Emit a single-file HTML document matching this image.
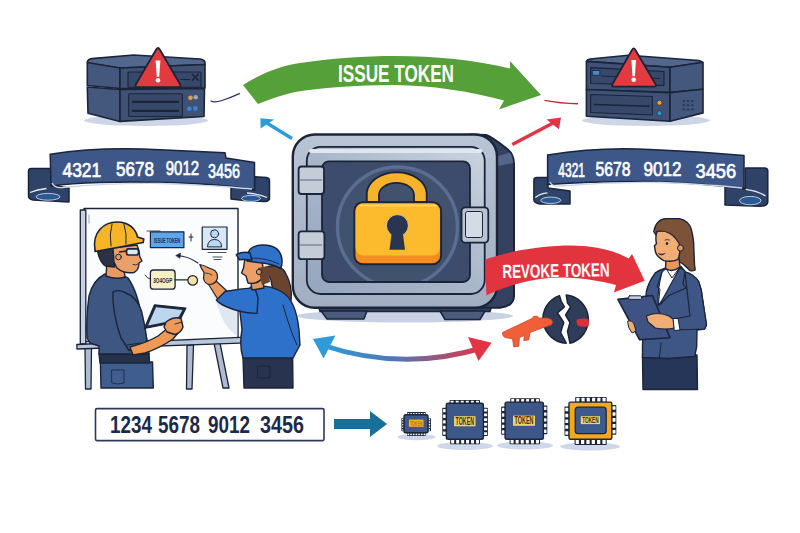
<!DOCTYPE html>
<html><head><meta charset="utf-8"><title>Tokenization</title>
<style>
html,body{margin:0;padding:0;background:#fff;width:800px;height:533px;overflow:hidden}
svg{display:block;font-family:"Liberation Sans",sans-serif}
</style></head><body>
<svg width="800" height="533" viewBox="0 0 800 533">
<defs>
<linearGradient id="dbl" x1="0" x2="1" y1="0" y2="0">
<stop offset="0" stop-color="#2f9bd8"/><stop offset="0.45" stop-color="#4f78b8"/><stop offset="1" stop-color="#e23444"/>
</linearGradient>
<linearGradient id="ring" x1="1" y1="0" x2="0" y2="1">
<stop offset="0" stop-color="#cbd4e0"/><stop offset="0.5" stop-color="#a9b7ca"/><stop offset="1" stop-color="#95a5bc"/>
</linearGradient>
<linearGradient id="outer" x1="0" y1="0" x2="0" y2="1">
<stop offset="0" stop-color="#b9c4d4"/><stop offset="1" stop-color="#a1aec2"/>
</linearGradient>
</defs>
<rect width="800" height="533" fill="#fff"/>

<!-- ============ LEFT SERVER ============ -->
<g id="srvL" stroke="#1b2438" stroke-width="1.6" stroke-linejoin="round">
<ellipse cx="146" cy="120.5" rx="62" ry="5.5" fill="#ccd6e8" stroke="none"/>
<path d="M87.3 62 Q88 59 92 58.6 L133.6 55 L200 59 Q204 59.6 205 62 L205 64.5 L120 68 L88 63.5 Z" fill="#53678d"/>
<path d="M87.3 62.5 L120 68 L120 88.5 L87.3 85.5 Z" fill="#44577d"/>
<path d="M120 68 L205 64.5 L205 88 L120 88.5 Z" fill="#3f5275"/>
<path d="M87.3 87 L120 89.5 L120 121.4 L88 113.2 Z" fill="#44577d"/>
<path d="M120 89.5 L204.5 88.5 L204 116.5 L120 121.4 Z" fill="#3f5275"/>
<rect x="128" y="72" width="73" height="15.3" rx="1" fill="#37486a" stroke-width="1.1"/>
<rect x="128.7" y="93.7" width="53.7" height="22.8" rx="1" fill="#37486a" stroke-width="1.1"/>
<line x1="132" y1="101.9" x2="179" y2="101.9" stroke="#1b2438" stroke-width="2.2"/>
<line x1="132" y1="110.8" x2="179" y2="110.8" stroke="#1b2438" stroke-width="2.2"/>
<circle cx="190.5" cy="97.8" r="2.3" fill="#e8a13a" stroke="none"/>
<circle cx="195.7" cy="97.3" r="2.3" fill="#9aa6bd" stroke="none"/>
<circle cx="189.4" cy="108.7" r="2.3" fill="#3a84d8" stroke="none"/>
<circle cx="195.4" cy="108.4" r="2.3" fill="#3a84d8" stroke="none"/>
<path d="M192 74 l6.6 6.6 M198.6 74 l-6.6 6.6" stroke="#1b2438" stroke-width="1.6"/>
<path d="M180 79.5 L190 79.5" stroke="#1b2438" stroke-width="1"/>
<path d="M156.2 49.5 Q158 46.5 159.8 49.5 L180.2 84.5 Q181.5 87.2 178.5 87.2 L137.5 87.2 Q134.5 87.2 135.8 84.5 Z" fill="#e23a3f" stroke="#1b2438" stroke-width="1.8"/>
<path d="M155.6 60.4 L160.4 60.4 L159.2 76.7 L156.8 76.7 Z" fill="#fff" stroke="none"/>
<circle cx="158" cy="80.3" r="2.3" fill="#fff" stroke="none"/>
</g>

<!-- ============ RIGHT SERVER ============ -->
<g id="srvR" stroke="#1b2438" stroke-width="1.6" stroke-linejoin="round">
<ellipse cx="646" cy="120.5" rx="64" ry="5.5" fill="#ccd6e8" stroke="none"/>
<path d="M586.4 61.4 Q587 59.5 590 59 L628.6 55.2 L699 60.5 Q702 61 702.5 62.5 L670 67.3 Z" fill="#53678d"/>
<path d="M586.4 61.4 L670 67.3 L670 92.6 L586.4 89.5 Z" fill="#3f5275"/>
<path d="M670 67.3 L703 62.2 L703 89.2 L670 92.6 Z" fill="#44577d"/>
<path d="M586.4 89.5 L670 92.6 L670 121.3 L586.4 116.2 Z" fill="#3f5275"/>
<path d="M670 92.6 L703 89.2 L703 112.9 L670 121.3 Z" fill="#44577d"/>
<path d="M590.7 67.6 L664 71.5 L664 85.5 L590.7 83.5 Z" fill="#37486a" stroke-width="1.1"/>
<rect x="592.3" y="70.5" width="7.5" height="4.8" fill="#4f86c6" stroke-width="0.8"/>
<line x1="601" y1="76" x2="660" y2="78.5" stroke="#1b2438" stroke-width="1"/>
<path d="M590.7 94.5 L652.3 96.5 L652.3 115 L590.7 112.5 Z" fill="#37486a" stroke-width="1.1"/>
<line x1="594" y1="104.5" x2="650" y2="106.3" stroke="#1b2438" stroke-width="1.6"/>
<circle cx="659.5" cy="102.7" r="2.5" fill="#e8a13a" stroke="#1b2438" stroke-width="0.6"/>
<circle cx="659.5" cy="113.2" r="2.5" fill="#2a9bc0" stroke="#1b2438" stroke-width="0.6"/>
<g fill="#2b3852" stroke="none"><rect x="682.6" y="100.0" width="2.6" height="1.8" rx="0.6"/><rect x="682.6" y="104.3" width="2.6" height="1.8" rx="0.6"/><rect x="682.6" y="108.6" width="2.6" height="1.8" rx="0.6"/><rect x="686.8" y="100.0" width="2.6" height="1.8" rx="0.6"/><rect x="686.8" y="104.3" width="2.6" height="1.8" rx="0.6"/><rect x="686.8" y="108.6" width="2.6" height="1.8" rx="0.6"/><rect x="691.0" y="100.0" width="2.6" height="1.8" rx="0.6"/><rect x="691.0" y="104.3" width="2.6" height="1.8" rx="0.6"/><rect x="691.0" y="108.6" width="2.6" height="1.8" rx="0.6"/></g>
<path d="M632 50 Q633.7 46.8 635.4 50 L655.5 84 Q657 86.7 654 86.7 L614 86.7 Q611 86.7 612.5 84 Z" fill="#e23a3f" stroke="#1b2438" stroke-width="1.8"/>
<path d="M631.4 60 L636 60 L634.9 76.2 L632.5 76.2 Z" fill="#fff" stroke="none"/>
<circle cx="633.7" cy="79.8" r="2.3" fill="#fff" stroke="none"/>
</g>

<!-- ============ GREEN ISSUE TOKEN ARROW ============ -->
<path d="M243 85 C262 73 280 66 300 63 C330 58.5 365 56 395 56 C435 56 475 60 510 68.5 L510 61 L541 95 L499 109.4 L504 100.5 C470 91 430 85.5 395 85 C355 85 320 88 295 92 C282 95 270 99 258 104 Z" fill="#56a03a"/>
<text x="338" y="81.5" font-size="24" font-weight="bold" fill="#fff" textLength="116" lengthAdjust="spacingAndGlyphs">ISSUE TOKEN</text>

<!-- thin lines & small arrows -->
<path d="M211 101 Q214 103 222 100.5 Q231 97.5 239.4 93.6" stroke="#2a3566" stroke-width="1.3" fill="none" stroke-linecap="round"/>
<path d="M544.5 100.4 Q560 103.5 578 103.7" stroke="#c42a38" stroke-width="1.4" fill="none"/>
<line x1="292" y1="138.5" x2="266" y2="122.5" stroke="#2d9cdb" stroke-width="3.4"/>
<path d="M260.4 118.3 L274.2 119.4 L260.6 128.6 Z" fill="#2d9cdb"/>
<line x1="512.3" y1="144.4" x2="554" y2="122.5" stroke="#e23444" stroke-width="3.4"/>
<path d="M561 117.5 L546.5 119.4 L559 129.3 Z" fill="#e23444"/>

<!-- ============ BANNERS ============ -->
<g id="banL" stroke="#1b2438" stroke-width="1.5" stroke-linejoin="round">
<path d="M28.5 171 Q28.5 168.5 31.5 168.5 L52 168.5 L52 185 L69 188 L69 202 L33 200 Q28.5 199 28.5 196 Z" fill="#2f4268"/>
<ellipse cx="48" cy="196.8" rx="12" ry="3.4" fill="#2a5a94" stroke="#c8d8ea" stroke-width="0.9"/>
<path d="M30 192.5 Q37 189.5 46.5 188.5" stroke="#e3ebf5" stroke-width="1.3" fill="none"/>
<path d="M231 186 L254.5 190 L254.5 176.7 L266.5 177.5 Q269.5 178 269.5 181 L269.5 199 Q268 201.5 264 201.5 L244 200.5 L231 199 Z" fill="#2f4268"/>
<ellipse cx="251" cy="198.4" rx="9.5" ry="3" fill="#2a5a94" stroke="#c8d8ea" stroke-width="0.9"/>
<path d="M247 193 Q259 194 267 197.5" stroke="#e3ebf5" stroke-width="1.3" fill="none"/>
<path d="M50.2 154.2 Q100 146.5 160 149.8 L225 152.7 L226 158 L254.5 162.5 L254.5 190 Q235 186 210 184.5 Q150 181 100 182.5 Q70 183.5 51 186 Z" fill="#3d5888"/>
<path d="M52 183 Q54 188 62 187.5 Q110 183 160 183.5 Q215 185.5 252 189" stroke="#c9d8ec" stroke-width="1.3" fill="none"/>
</g>
<text x="62.5" y="176.6" font-size="20.5" font-weight="normal" fill="#fff" stroke="#fff" stroke-width="0.7" textLength="38.7" lengthAdjust="spacingAndGlyphs">4321</text>
<text x="115.9" y="175.8" font-size="20.5" font-weight="normal" fill="#fff" stroke="#fff" stroke-width="0.7" textLength="38.0" lengthAdjust="spacingAndGlyphs">5678</text>
<text x="165.8" y="175" font-size="20.5" font-weight="normal" fill="#fff" stroke="#fff" stroke-width="0.7" textLength="33.2" lengthAdjust="spacingAndGlyphs">9012</text>
<text x="208" y="178" font-size="20.5" font-weight="normal" fill="#fff" stroke="#fff" stroke-width="0.7" textLength="32.0" lengthAdjust="spacingAndGlyphs">3456</text>

<g id="banR" stroke="#1b2438" stroke-width="1.5" stroke-linejoin="round">
<path d="M533.9 180 Q534 177.4 537 177.4 L548 177.4 L548 188 L570 191 L570 204 L540 204 Q534 203 533.9 200 Z" fill="#2f4268"/>
<ellipse cx="550.8" cy="200.3" rx="10" ry="3.2" fill="#2a5a94" stroke="#c8d8ea" stroke-width="0.9"/>
<path d="M535.3 197.5 Q540 193.5 547.5 192.8" stroke="#e3ebf5" stroke-width="1.3" fill="none"/>
<path d="M725 187 L745.3 188.5 L745.3 168 L764.5 168 Q767.8 168 767.8 171 L767.8 202 Q767 206.3 760 206.3 L725 205 Z" fill="#2f4268"/>
<ellipse cx="750.3" cy="200.6" rx="10.7" ry="4.2" fill="#2a5a94" stroke="#c8d8ea" stroke-width="0.9"/>
<path d="M745.8 189.4 Q758 191 765.5 196" stroke="#e3ebf5" stroke-width="1.3" fill="none"/>
<path d="M547.6 155 Q600 146.5 650 149.5 Q700 151.5 744 155.6 L744 188.7 Q700 183 650 181.5 Q595 181 547.6 184.5 Z" fill="#3d5888"/>
<path d="M550 182 Q552 187 560 186 Q610 181.5 660 182.5 Q710 184.5 742 188" stroke="#c9d8ec" stroke-width="1.3" fill="none"/>
</g>
<text x="558.3" y="177.4" font-size="20.5" font-weight="normal" fill="#fff" stroke="#fff" stroke-width="0.7" textLength="26.7" lengthAdjust="spacingAndGlyphs">4321</text>
<text x="595.4" y="175.7" font-size="20.5" font-weight="normal" fill="#fff" stroke="#fff" stroke-width="0.7" textLength="35.1" lengthAdjust="spacingAndGlyphs">5678</text>
<text x="643.5" y="175.7" font-size="20.5" font-weight="normal" fill="#fff" stroke="#fff" stroke-width="0.7" textLength="38.0" lengthAdjust="spacingAndGlyphs">9012</text>
<text x="695.5" y="178.3" font-size="20.5" font-weight="normal" fill="#fff" stroke="#fff" stroke-width="0.7" textLength="40.6" lengthAdjust="spacingAndGlyphs">3456</text>

<!-- ============ SAFE ============ -->
<g id="safe" stroke="#1b2438" stroke-linejoin="round">
<ellipse cx="405" cy="316" rx="108" ry="6.5" fill="#c8d2e3" stroke="none"/>
<path d="M318 305 L492 305 L490 311.5 L320 311.5 Z" fill="#34425f" stroke-width="1.5"/>
<path d="M321.2 311 L367 311 L364 319 L327 319 Z" fill="#4a5b7c" stroke-width="1.5"/>
<path d="M440 311 L485 311 L480 319.5 L445 319.5 Z" fill="#4a5b7c" stroke-width="1.5"/>
<path d="M470 134.5 L486 135 Q492 137 506 148 Q514 154 514 164 L514 296 Q514 306 500 307.8 L470 307.8 Z" fill="#34425f" stroke-width="2"/>
<path d="M498 156 L510 152.5 Q513 157 513 163 L498 166 Z" fill="#55668a" stroke="none"/>
<rect x="292.8" y="134.5" width="204.2" height="173.3" rx="22" fill="url(#outer)" stroke-width="2.4"/>
<rect x="306.8" y="146.8" width="177.9" height="147.2" rx="14" fill="url(#ring)" stroke-width="1.8"/>
<rect x="309" y="149" width="173.5" height="4" rx="2" fill="#dfe6ef" stroke="none"/>
<rect x="322" y="161.3" width="148" height="120.7" rx="7" fill="#3d4c6c" stroke-width="1.8"/>
<clipPath id="pclip"><rect x="323" y="162.3" width="146" height="118.7" rx="6"/></clipPath>
<g clip-path="url(#pclip)"><circle cx="397.5" cy="227" r="60" fill="#41526f" stroke="#5a6e92" stroke-width="3.4"/></g>
<!-- hinges -->
<rect x="298.6" y="166.5" width="25.4" height="27.5" rx="3" fill="#c4ccd8" stroke-width="1.8"/>
<line x1="300" y1="180" x2="322" y2="180" stroke="#6d7a90" stroke-width="1.2"/>
<rect x="298.6" y="231.4" width="25.8" height="27.8" rx="3" fill="#c4ccd8" stroke-width="1.8"/>
<line x1="300" y1="245" x2="322" y2="245" stroke="#6d7a90" stroke-width="1.2"/>
<!-- handle -->
<rect x="461.5" y="207.3" width="26.8" height="35.4" rx="4" fill="#b9c3d1" stroke-width="1.8"/>
<rect x="465.5" y="211.5" width="17" height="26" rx="2" fill="#d4dbe5" stroke-width="1"/>
<!-- lock -->
<path d="M366.8 202 L366.8 193 A30 22 0 0 1 426.7 193 L426.7 202 L414 202 L414 195 A16.5 11.5 0 0 0 379 195 L379 202 Z" fill="#f7b42a" stroke-width="1.8"/>
<rect x="354.4" y="202.3" width="86.7" height="61.9" rx="8.5" fill="#f58e1f" stroke-width="2"/>
<rect x="355.6" y="203.5" width="84.3" height="52" rx="7.5" fill="#fcbb2c" stroke="none"/>
<path d="M360 205.5 L436 205.5" stroke="#fdd867" stroke-width="1.6" stroke-linecap="round"/>
<circle cx="397.4" cy="225.6" r="11" fill="#2a3651" stroke="#fde28a" stroke-width="0.8"/>
<path d="M392 230 L389.5 249.8 L405 249.8 L402.5 230 Z" fill="#2a3651" stroke="none"/>
</g>

<!-- ============ RED REVOKE ARROW ============ -->
<path d="M485.3 259.4 C505 253 530 247 565 245.6 C595 245 615 251 628.7 258.4 L632 254.1 L644.7 280.7 L613.9 292.4 L616 285 C600 281 588 278.5 565 277.5 C540 277 512 283 486.4 295.6 Z" fill="#e2343f"/>
<text x="502.3" y="277.2" font-size="19" font-weight="bold" fill="#fff" textLength="107.3" lengthAdjust="spacingAndGlyphs" transform="rotate(-1 556 270)">REVOKE TOKEN</text>

<!-- ============ BROKEN KEY & CIRCLE ============ -->
<g stroke="#1b2438" stroke-width="1.5" stroke-linejoin="round">
<path d="M559.4 295.6 L561.25 301.25 L564.4 306.9 L557.5 313 L563.75 322.5 L560.6 332.5 L566.25 343.2 A24.5 24.5 0 0 1 559.4 295.6 Z" fill="#2f3d5b"/>
<path d="M566.25 295.1 A24.5 24.5 0 0 1 570 343.2 L567.5 331.25 L570 322.5 L565.6 315 L570.6 306.9 L567.5 303 Z" fill="#2f3d5b"/>
<path d="M577 319.5 Q583 317.8 588.5 319.2 Q589.5 323 588.3 326.5 Q582 327.5 578 325.5 Q575.5 322 577 319.5 Z" fill="#e02f3b" stroke="none"/>
<path d="M502.5 332.5 L532.5 318.2 L533.75 316.25 L537.5 316.25 L538.5 318 L547.5 318.1 Q553 319.5 552.5 322.5 Q552 325.5 548.75 325.8 L540 328.75 L530 332.5 L528.75 340 L523.75 340.6 L524.4 335.6 L519.4 337.5 L518.75 346.25 L513.75 346.9 L512.5 338.75 L505 337.5 Q502 336 502.5 332.5 Z" fill="#f05f38" stroke="#c9452a" stroke-width="0.8"/>
</g>

<!-- ============ DOUBLE ARROW ============ -->
<path d="M322 345 Q402 372 482 348" stroke="url(#dbl)" stroke-width="5" fill="none"/>
<path d="M313 338.9 L335.4 335.5 L323.6 358.6 Z" fill="#2f9bd8"/>
<path d="M491.6 342.8 L468 337 L478.5 361 Z" fill="#e23444"/>

<!-- ============ WHITEBOARD ============ -->
<g id="board" stroke="#1b2438" stroke-linejoin="round" stroke-linecap="round">
<!-- legs -->
<path d="M85 347 L91.5 347 L91 389 L85.5 389 Z" fill="#aebcd2" stroke-width="1.3"/>
<path d="M187 345 L193.5 345 L192 389 L186.5 389 Z" fill="#aebcd2" stroke-width="1.3"/>
<path d="M214 343 L220 343 L229 388 L223 388 Z" fill="#aebcd2" stroke-width="1.3"/>
<!-- board -->
<rect x="84" y="208.5" width="154" height="133" fill="#fbfcfe" stroke-width="1.4"/>
<rect x="80.3" y="210" width="5.5" height="134" fill="#c5d1e2" stroke-width="1.3"/>
<line x1="89" y1="215" x2="89" y2="223" stroke="#9aa5b5" stroke-width="1"/>
<path d="M212 292 Q226 300 237.3 302 L237.3 336 Q228 330 222 318 Z" fill="#dfe7f2" stroke="none"/>
<!-- ledge -->
<path d="M76.8 344.5 L246 337.2 L246.4 342.8 L77 349 Z" fill="#b9c7db" stroke-width="1.3"/>
<!-- board items -->
<rect x="150.4" y="231.8" width="33.5" height="15.9" fill="#5da6e8" stroke-width="1.2"/>
<line x1="147" y1="231" x2="160" y2="231" stroke-width="0.8"/>
<text x="167" y="243" font-size="7.5" font-weight="bold" fill="#1b2a55" stroke="none" text-anchor="middle" textLength="26" lengthAdjust="spacingAndGlyphs">ISSUE TOKEN</text>
<path d="M191 234 L191 241 M189 237 L193 237" stroke-width="1"/>
<rect x="202.2" y="227" width="24.8" height="22.3" fill="#d6e8f8" stroke-width="1.2"/>
<circle cx="214.6" cy="233.8" r="4" fill="#bcd9f2" stroke-width="1"/>
<path d="M207.5 246.5 Q208 239.5 214.6 239.5 Q221 239.5 221.7 246.5 Z" fill="#bcd9f2" stroke-width="1"/>
<path d="M208 252.5 L226 252.5" stroke-width="0.8"/>
<rect x="150.4" y="270" width="24.7" height="19.2" rx="3" fill="#faefc4" stroke-width="1.3"/>
<text x="162.8" y="283" font-size="8" font-weight="bold" fill="#1b2438" stroke="none" text-anchor="middle" textLength="19" lengthAdjust="spacingAndGlyphs">3O4OGP</text>
<line x1="175" y1="279.8" x2="188" y2="279.8" stroke-width="1.2"/>
<circle cx="192.7" cy="280.4" r="4.8" fill="#f5e3a6" stroke-width="1.2"/>
<path d="M145 275 Q148 279 150 279" stroke-width="0.9" fill="none"/>
<path d="M198 263 Q188 256 177 255.5" stroke-width="1.1" fill="none"/>
<path d="M176 255.5 L180.5 253 L180 258 Z" fill="#1b2438" stroke-width="0.6"/>
<path d="M213 257 L222 257 M214 259.5 L221 259.5" stroke-width="0.8"/>
</g>

<!-- ============ MAN ============ -->
<g id="man" stroke="#1b2438" stroke-linejoin="round" stroke-linecap="round" stroke-width="1.4">
<!-- jeans -->
<path d="M100.4 362 L152.5 362 L153.3 388 L101 388 Z" fill="#3f5d8e"/>
<path d="M112 370 L124 370 L124 383 Q118 385 112 383 Z" fill="none" stroke-width="0.8"/>
<!-- belt -->
<path d="M99 353.5 L149 353.5 L149.5 363 L100 363 Z" fill="#26314a"/>
<!-- body -->
<path d="M105 274 Q93 280 89 296 Q86 318 87 338 L90 343 L99 346 L99 354 L149 354 L148 344 L142 320 Q138 292 128 278 Q122 273 105 274 Z" fill="#3d5782"/>
<!-- upper arm sleeve -->
<path d="M113 292 Q118 289 125 292.5 Q137 297 141.5 311 L145 327 L147 341 L140 348 L129 350.5 L121 338 Q114 318 113 300 Z" fill="#3d5782"/>
<path d="M127 345 L141 343" stroke-width="1"/>
<!-- tablet -->
<path d="M154.5 304.8 L186 308 L179 321.7 L144.3 328.4 Z" fill="#1f2a40" stroke-width="1.2"/>
<path d="M156 307.3 L182.5 310 L177 319.8 L148 325.6 Z" fill="#bcd6ee" stroke="none"/>
<!-- forearm -->
<path d="M130 347 Q146 343 158 336 L168 328 L178 333 L173 339 Q160 348 145 353 L133 355 Z" fill="#ee9a55"/>
<!-- hand -->
<path d="M166 322 Q174 316 181 318.5 L183 327 Q181 333 175 334.5 L167 332 L164 327 Z" fill="#ee9a55"/>
<path d="M175 324 L182 322" stroke-width="0.9"/>
<!-- neck -->
<path d="M107 262 L123 262 L125 277 Q116 280 106 276 Z" fill="#e99a62"/>
<!-- hair -->
<path d="M97 248 Q99 262 105.5 266 L114.5 267 L117 254 L118 249 Z" fill="#2b3246"/>
<!-- face -->
<path d="M113 248 L137 245 Q140 252 139.5 256 L142 261 L139 263 Q139 270 134 272.5 Q124 274 117 268 L114 262 Z" fill="#eba06a"/>
<circle cx="118.5" cy="257" r="2.8" fill="#e99a62" stroke-width="1"/>
<rect x="126.5" y="248.8" width="12" height="6.2" rx="2.2" fill="#dbe9f6" stroke-width="1.7"/>
<path d="M119.5 252 L126.5 251" stroke-width="1.4"/>
<path d="M133 264.5 Q136 266 138 264" stroke-width="0.9" fill="none"/>
<!-- helmet -->
<path d="M95 250 C 92 232 104 222 117 222 C 130 222 136 230 137.5 237 L 143.8 239 L 143.2 242.5 C 125 246 108 249.5 95 251.5 Z" fill="#f6b526" stroke-width="1.6"/>
<path d="M112 224 Q109 235 111 246 M124 224 Q127 234 126 244" stroke-width="1" fill="none"/>
</g>

<!-- ============ WOMAN (board) ============ -->
<g id="woman" stroke="#1b2438" stroke-linejoin="round" stroke-linecap="round" stroke-width="1.4">
<!-- pants -->
<path d="M243 357 L292.6 357 L293 388 L244 388 Z" fill="#27334f"/>
<path d="M258 366 L270 366 L270 378 L258 378 Z" fill="none" stroke-width="0.8"/>
<!-- ponytail -->
<path d="M264 268 Q278 262 285 272 Q293 286 291 301 Q284 296 278 300 Q272 290 271 280 Z" fill="#6b4430"/>
<!-- body -->
<path d="M252 286 Q268 284 282 292 Q296 300 299 330 L300 345 L293 358 L243 358 Q239 345 242 330 L240 312 Q236 300 252 286 Z" fill="#2e71ca"/>
<path d="M283 305 Q290 330 297 345" stroke-width="1" fill="none"/>
<!-- arm -->
<path d="M204.5 278 L215 280 L228 292 L219 301 Z" fill="#ec9a5c" stroke-width="1.2"/>
<path d="M216.5 300 L225 291.5 Q240 288.5 254.8 287.6 L258 298 L257 313.4 Q240 313 226 306.5 Q219 303.5 216.5 300 Z" fill="#2e71ca"/>

<path d="M199.8 264.5 Q205 265.5 209 268 L213 269.5 Q218 272 217.5 278 Q216 284 210 284.5 Q204.5 284 203.5 278.5 L204 272.5 Q201 268 199.8 264.5 Z" fill="#ec9a5c" stroke-width="1.2"/>
<path d="M205 273 Q209 273 212 275" fill="none" stroke-width="0.8"/>
<!-- neck -->
<path d="M250 276 L262 276 L264 288 L252 290 Z" fill="#e6975c"/>
<!-- face -->
<path d="M245 258 L262 260 L264 276 Q258 285 248 283 L246 276 L241.5 273 L243.5 268 Z" fill="#ec9f66"/>
<path d="M258 268 L268 266 L270 282 L262 285 Z" fill="#6b4430" stroke="none"/>
<circle cx="259" cy="272" r="2.6" fill="#e6975c" stroke-width="1"/>
<!-- cap -->
<path d="M247 261 Q245.5 246 262 245 Q278.5 244.5 281.5 257 Q283 264 280.5 268.5 Q272 263.5 258 262.5 Z" fill="#2e71ca" stroke-width="1.5"/>
<path d="M236.3 254.6 Q243 251 250 253 L252 260 Q244 259 239.4 259.8 Z" fill="#2e71ca" stroke-width="1.4"/>
<path d="M251 258 Q265 257.5 279 264" stroke-width="0.9" fill="none"/>
</g>

<!-- ============ BUSINESSWOMAN ============ -->
<g id="bw" stroke="#1b2438" stroke-linejoin="round" stroke-linecap="round" stroke-width="1.4">
<!-- skirt -->
<path d="M642.5 356 L697 355 L697.5 389.5 L643 389.5 Z" fill="#263659"/>
<!-- hair back -->
<path d="M653.8 231.7 Q656 219 666.3 218.6 L679.4 218.6 Q689 221 691.2 229 Q694 240 693.8 248 L694.5 264.5 L695.2 269.8 Q692 271.5 690 270.4 L683 264 L670 256 Z" fill="#7c5238"/>
<!-- jacket body -->
<path d="M655.3 272.8 Q662 269 666 268 L681 266.5 Q684 270 684.9 271.8 Q695 275 698.7 281.7 Q702 290 702.6 299.4 L706.5 325 L704.6 329 L697 330 L696.7 346.7 L694.7 356.5 L669 358.5 L642.5 357.5 L642.5 346.7 Q643 320 646.4 291.5 Q648 283 655.3 272.8 Z" fill="#3d5686"/>
<!-- shirt V -->
<path d="M662.2 271.8 L666 268.5 L680 266.9 L670 290 L658.3 305.3 Q657 290 662.2 271.8 Z" fill="#ffffff" stroke-width="1.1"/>
<path d="M666 268.5 L672 278 L680 266.9" fill="none" stroke-width="1"/>
<!-- lapels -->
<path d="M680 267.5 L685 271 L683 284 L686 288 L669 295.5 L659.3 305.3 L672 282 Z" fill="#3d5686" stroke-width="1.1"/>
<path d="M662 272 L657 287 L660 289 L658.3 305.3" fill="none" stroke-width="1"/>
<path d="M661.2 342.7 L659.3 358" fill="none" stroke-width="1"/>
<!-- neck -->
<path d="M666 258 L679 258 L680 267 Q672 273 665.5 268.5 Z" fill="#e8985d"/>
<!-- face -->
<path d="M657 231.7 Q668 228 679 236 L680 247 Q680 255 678 259.3 Q672 262.5 663.6 260.6 Q657 257 655.5 252 L654.4 246 L656.5 243.5 Q655 237 657 231.7 Z" fill="#f0ad76"/>
<!-- hair front -->
<path d="M653.8 231.7 Q660 222 670 222.5 Q683 224 690 236 L690 252 L684 262 L680 246 Q677 238 670 233.5 Q663 230 656.5 231.5 Z" fill="#7c5238" stroke="none"/>
<path d="M656.5 231.5 Q663 230 670 233.5 Q677 238 680 246" fill="none" stroke-width="1.1"/>
<circle cx="680.5" cy="248" r="3" fill="#e8985d" stroke-width="1"/>
<ellipse cx="667" cy="243.5" rx="1.2" ry="1.5" fill="#1b2438" stroke="none"/>
<path d="M665 240 Q667 239 669.5 240" fill="none" stroke-width="0.8"/>
<path d="M658.5 253.5 Q661 256.5 665 253.5" fill="#b52a3a" stroke-width="0.9"/>
<!-- clipboard -->
<path d="M617.9 299.4 L652.4 295.5 L670 337.8 L639.6 339.8 Z" fill="#3e5283" stroke-width="1.6"/>
<rect x="628.7" y="295.8" width="12.8" height="3.6" rx="1" fill="#c8d3e2" stroke-width="1"/>
<!-- left hand behind -->
<path d="M628 321 Q632 320 634 324 L636 331 L632 333 Q628 328 627.7 323 Z" fill="#f0ad76" stroke-width="1"/>
<!-- right sleeve -->
<path d="M684.9 271.8 Q695 275 698.7 281.7 Q702 290 702.6 299.4 L706.5 325 L704.6 329 L677 330 L673 319 L690 316 Z" fill="#3d5686" stroke-width="1.2"/>
<path d="M673 318.5 L678 318.5 L680 330 L674.5 330.5 Z" fill="#fff" stroke-width="1"/>
<!-- right hand -->
<path d="M646.4 316.1 Q656 311 669 316 L673 319 L674 328 Q666 330 655.3 328 L648 322 Z" fill="#f0ad76" stroke-width="1.1"/>
</g>

<!-- ============ BOTTOM BOX & ARROW ============ -->
<rect x="95.5" y="408.6" width="228.5" height="32" rx="1.5" fill="#fff" stroke="#2e3a55" stroke-width="1.6"/>
<text x="110" y="433" font-size="23" font-weight="bold" fill="#1c2a4a" textLength="42" lengthAdjust="spacingAndGlyphs">1234</text>
<text x="158" y="433" font-size="23" font-weight="bold" fill="#1c2a4a" textLength="42" lengthAdjust="spacingAndGlyphs">5678</text>
<text x="208" y="433" font-size="23" font-weight="bold" fill="#1c2a4a" textLength="42" lengthAdjust="spacingAndGlyphs">9012</text>
<text x="260" y="433" font-size="23" font-weight="bold" fill="#1c2a4a" textLength="44" lengthAdjust="spacingAndGlyphs">3456</text>
<path d="M334 419 L370 419 L370 411 L387 424 L370 437 L370 429 L334 429 Z" fill="#18709a"/>

<!-- ============ CHIPS ============ -->
<g id="chips" stroke-linejoin="round">
<ellipse cx="416.5" cy="437" rx="19" ry="3.2" fill="#cfd8ea"/>
<ellipse cx="465" cy="446" rx="28" ry="4" fill="#cfd8ea"/>
<ellipse cx="525" cy="445.5" rx="28" ry="4" fill="#cfd8ea"/>
<ellipse cx="590" cy="446.5" rx="30" ry="4" fill="#cfd8ea"/>
<rect x="407.0" y="412.1" width="18.8" height="3.2" rx="0.8" fill="#1b2438"/>
<rect x="407.54" y="412.90" width="1.61" height="1.60" rx="0.4" fill="#fff"/>
<rect x="410.22" y="412.90" width="1.61" height="1.60" rx="0.4" fill="#fff"/>
<rect x="412.91" y="412.90" width="1.61" height="1.60" rx="0.4" fill="#fff"/>
<rect x="415.59" y="412.90" width="1.61" height="1.60" rx="0.4" fill="#fff"/>
<rect x="418.28" y="412.90" width="1.61" height="1.60" rx="0.4" fill="#fff"/>
<rect x="420.97" y="412.90" width="1.61" height="1.60" rx="0.4" fill="#fff"/>
<rect x="423.65" y="412.90" width="1.61" height="1.60" rx="0.4" fill="#fff"/>
<rect x="407.0" y="432.4" width="18.8" height="3.7" rx="0.8" fill="#1b2438"/>
<rect x="407.54" y="433.20" width="1.61" height="2.10" rx="0.4" fill="#fff"/>
<rect x="410.22" y="433.20" width="1.61" height="2.10" rx="0.4" fill="#fff"/>
<rect x="412.91" y="433.20" width="1.61" height="2.10" rx="0.4" fill="#fff"/>
<rect x="415.59" y="433.20" width="1.61" height="2.10" rx="0.4" fill="#fff"/>
<rect x="418.28" y="433.20" width="1.61" height="2.10" rx="0.4" fill="#fff"/>
<rect x="420.97" y="433.20" width="1.61" height="2.10" rx="0.4" fill="#fff"/>
<rect x="423.65" y="433.20" width="1.61" height="2.10" rx="0.4" fill="#fff"/>
<rect x="401.4" y="418.0" width="3.2" height="13.3" rx="0.8" fill="#1b2438"/>
<rect x="402.20" y="418.53" width="1.60" height="1.60" rx="0.4" fill="#fff"/>
<rect x="402.20" y="421.19" width="1.60" height="1.60" rx="0.4" fill="#fff"/>
<rect x="402.20" y="423.85" width="1.60" height="1.60" rx="0.4" fill="#fff"/>
<rect x="402.20" y="426.51" width="1.60" height="1.60" rx="0.4" fill="#fff"/>
<rect x="402.20" y="429.17" width="1.60" height="1.60" rx="0.4" fill="#fff"/>
<rect x="427.4" y="418.0" width="3.6" height="13.3" rx="0.8" fill="#1b2438"/>
<rect x="428.20" y="418.53" width="2.00" height="1.60" rx="0.4" fill="#fff"/>
<rect x="428.20" y="421.19" width="2.00" height="1.60" rx="0.4" fill="#fff"/>
<rect x="428.20" y="423.85" width="2.00" height="1.60" rx="0.4" fill="#fff"/>
<rect x="428.20" y="426.51" width="2.00" height="1.60" rx="0.4" fill="#fff"/>
<rect x="428.20" y="429.17" width="2.00" height="1.60" rx="0.4" fill="#fff"/>
<rect x="404" y="414.8" width="24.0" height="18.0" rx="1.8" fill="#3d5789" stroke="#1b2438" stroke-width="1.4"/>
<rect x="408.9" y="419.6" width="14.6" height="7.2" fill="#f3b532"/>
<text x="416.2" y="425.5" font-size="6.5" font-weight="bold" fill="#c0661a" text-anchor="middle" textLength="12.6" lengthAdjust="spacingAndGlyphs">TOKEN</text>
<rect x="449.6" y="399.9" width="30.4" height="3.9" rx="0.8" fill="#1b2438"/>
<rect x="450.61" y="400.70" width="3.04" height="2.30" rx="0.4" fill="#fff"/>
<rect x="455.68" y="400.70" width="3.04" height="2.30" rx="0.4" fill="#fff"/>
<rect x="460.75" y="400.70" width="3.04" height="2.30" rx="0.4" fill="#fff"/>
<rect x="465.81" y="400.70" width="3.04" height="2.30" rx="0.4" fill="#fff"/>
<rect x="470.88" y="400.70" width="3.04" height="2.30" rx="0.4" fill="#fff"/>
<rect x="475.95" y="400.70" width="3.04" height="2.30" rx="0.4" fill="#fff"/>
<rect x="450.2" y="438.8" width="29.8" height="5.5" rx="0.8" fill="#1b2438"/>
<rect x="451.19" y="439.60" width="2.98" height="3.90" rx="0.4" fill="#fff"/>
<rect x="456.16" y="439.60" width="2.98" height="3.90" rx="0.4" fill="#fff"/>
<rect x="461.13" y="439.60" width="2.98" height="3.90" rx="0.4" fill="#fff"/>
<rect x="466.09" y="439.60" width="2.98" height="3.90" rx="0.4" fill="#fff"/>
<rect x="471.06" y="439.60" width="2.98" height="3.90" rx="0.4" fill="#fff"/>
<rect x="476.03" y="439.60" width="2.98" height="3.90" rx="0.4" fill="#fff"/>
<rect x="442.3" y="407.8" width="4.5" height="28.2" rx="0.8" fill="#1b2438"/>
<rect x="443.10" y="408.93" width="2.90" height="3.38" rx="0.4" fill="#fff"/>
<rect x="443.10" y="414.57" width="2.90" height="3.38" rx="0.4" fill="#fff"/>
<rect x="443.10" y="420.21" width="2.90" height="3.38" rx="0.4" fill="#fff"/>
<rect x="443.10" y="425.85" width="2.90" height="3.38" rx="0.4" fill="#fff"/>
<rect x="443.10" y="431.49" width="2.90" height="3.38" rx="0.4" fill="#fff"/>
<rect x="482.9" y="407.8" width="5.0" height="28.2" rx="0.8" fill="#1b2438"/>
<rect x="483.70" y="408.74" width="3.40" height="2.82" rx="0.4" fill="#fff"/>
<rect x="483.70" y="413.44" width="3.40" height="2.82" rx="0.4" fill="#fff"/>
<rect x="483.70" y="418.14" width="3.40" height="2.82" rx="0.4" fill="#fff"/>
<rect x="483.70" y="422.84" width="3.40" height="2.82" rx="0.4" fill="#fff"/>
<rect x="483.70" y="427.54" width="3.40" height="2.82" rx="0.4" fill="#fff"/>
<rect x="483.70" y="432.24" width="3.40" height="2.82" rx="0.4" fill="#fff"/>
<rect x="446.3" y="403.3" width="37.1" height="36.0" rx="1.8" fill="#3d5789" stroke="#1b2438" stroke-width="1.4"/>
<rect x="454.1" y="416.2" width="21.4" height="10.1" fill="#f2d36a"/>
<text x="464.8" y="424.5" font-size="10" font-weight="bold" fill="#3a2e10" text-anchor="middle" textLength="18.4" lengthAdjust="spacingAndGlyphs">TOKEN</text>
<rect x="510.2" y="398.2" width="29.8" height="4.5" rx="0.8" fill="#1b2438"/>
<rect x="511.19" y="399.00" width="2.98" height="2.90" rx="0.4" fill="#fff"/>
<rect x="516.16" y="399.00" width="2.98" height="2.90" rx="0.4" fill="#fff"/>
<rect x="521.13" y="399.00" width="2.98" height="2.90" rx="0.4" fill="#fff"/>
<rect x="526.09" y="399.00" width="2.98" height="2.90" rx="0.4" fill="#fff"/>
<rect x="531.06" y="399.00" width="2.98" height="2.90" rx="0.4" fill="#fff"/>
<rect x="536.03" y="399.00" width="2.98" height="2.90" rx="0.4" fill="#fff"/>
<rect x="509.6" y="438.8" width="30.4" height="5.5" rx="0.8" fill="#1b2438"/>
<rect x="510.61" y="439.60" width="3.04" height="3.90" rx="0.4" fill="#fff"/>
<rect x="515.68" y="439.60" width="3.04" height="3.90" rx="0.4" fill="#fff"/>
<rect x="520.75" y="439.60" width="3.04" height="3.90" rx="0.4" fill="#fff"/>
<rect x="525.81" y="439.60" width="3.04" height="3.90" rx="0.4" fill="#fff"/>
<rect x="530.88" y="439.60" width="3.04" height="3.90" rx="0.4" fill="#fff"/>
<rect x="535.95" y="439.60" width="3.04" height="3.90" rx="0.4" fill="#fff"/>
<rect x="501.2" y="406.6" width="4.4" height="28.2" rx="0.8" fill="#1b2438"/>
<rect x="502.00" y="407.73" width="2.80" height="3.38" rx="0.4" fill="#fff"/>
<rect x="502.00" y="413.37" width="2.80" height="3.38" rx="0.4" fill="#fff"/>
<rect x="502.00" y="419.01" width="2.80" height="3.38" rx="0.4" fill="#fff"/>
<rect x="502.00" y="424.65" width="2.80" height="3.38" rx="0.4" fill="#fff"/>
<rect x="502.00" y="430.29" width="2.80" height="3.38" rx="0.4" fill="#fff"/>
<rect x="542.9" y="405.5" width="4.4" height="28.7" rx="0.8" fill="#1b2438"/>
<rect x="543.70" y="406.65" width="2.80" height="3.44" rx="0.4" fill="#fff"/>
<rect x="543.70" y="412.39" width="2.80" height="3.44" rx="0.4" fill="#fff"/>
<rect x="543.70" y="418.13" width="2.80" height="3.44" rx="0.4" fill="#fff"/>
<rect x="543.70" y="423.87" width="2.80" height="3.44" rx="0.4" fill="#fff"/>
<rect x="543.70" y="429.61" width="2.80" height="3.44" rx="0.4" fill="#fff"/>
<rect x="505.1" y="402.1" width="38.3" height="37.2" rx="1.8" fill="#3d5789" stroke="#1b2438" stroke-width="1.4"/>
<rect x="513" y="415.6" width="22.0" height="10.2" fill="#f2d36a"/>
<text x="524.0" y="424.0" font-size="10" font-weight="bold" fill="#3a2e10" text-anchor="middle" textLength="18.9" lengthAdjust="spacingAndGlyphs">TOKEN</text>
<rect x="575.2" y="397.0" width="31.5" height="5.6" rx="0.8" fill="#1b2438"/>
<rect x="576.25" y="397.80" width="3.15" height="4.00" rx="0.4" fill="#fff"/>
<rect x="581.50" y="397.80" width="3.15" height="4.00" rx="0.4" fill="#fff"/>
<rect x="586.75" y="397.80" width="3.15" height="4.00" rx="0.4" fill="#fff"/>
<rect x="592.00" y="397.80" width="3.15" height="4.00" rx="0.4" fill="#fff"/>
<rect x="597.25" y="397.80" width="3.15" height="4.00" rx="0.4" fill="#fff"/>
<rect x="602.50" y="397.80" width="3.15" height="4.00" rx="0.4" fill="#fff"/>
<rect x="574.6" y="438.8" width="32.1" height="6.1" rx="0.8" fill="#1b2438"/>
<rect x="575.67" y="439.60" width="3.21" height="4.50" rx="0.4" fill="#fff"/>
<rect x="581.02" y="439.60" width="3.21" height="4.50" rx="0.4" fill="#fff"/>
<rect x="586.37" y="439.60" width="3.21" height="4.50" rx="0.4" fill="#fff"/>
<rect x="591.72" y="439.60" width="3.21" height="4.50" rx="0.4" fill="#fff"/>
<rect x="597.07" y="439.60" width="3.21" height="4.50" rx="0.4" fill="#fff"/>
<rect x="602.42" y="439.60" width="3.21" height="4.50" rx="0.4" fill="#fff"/>
<rect x="564.5" y="406.6" width="5.0" height="29.3" rx="0.8" fill="#1b2438"/>
<rect x="565.30" y="407.77" width="3.40" height="3.52" rx="0.4" fill="#fff"/>
<rect x="565.30" y="413.63" width="3.40" height="3.52" rx="0.4" fill="#fff"/>
<rect x="565.30" y="419.49" width="3.40" height="3.52" rx="0.4" fill="#fff"/>
<rect x="565.30" y="425.35" width="3.40" height="3.52" rx="0.4" fill="#fff"/>
<rect x="565.30" y="431.21" width="3.40" height="3.52" rx="0.4" fill="#fff"/>
<rect x="611.3" y="405.0" width="5.0" height="29.8" rx="0.8" fill="#1b2438"/>
<rect x="612.10" y="406.19" width="3.40" height="3.58" rx="0.4" fill="#fff"/>
<rect x="612.10" y="412.15" width="3.40" height="3.58" rx="0.4" fill="#fff"/>
<rect x="612.10" y="418.11" width="3.40" height="3.58" rx="0.4" fill="#fff"/>
<rect x="612.10" y="424.07" width="3.40" height="3.58" rx="0.4" fill="#fff"/>
<rect x="612.10" y="430.03" width="3.40" height="3.58" rx="0.4" fill="#fff"/>
<rect x="569" y="402.1" width="42.8" height="37.2" rx="1.5" fill="#f4a81d" stroke="#1b2438" stroke-width="1.4"/>
<rect x="575.2" y="407.2" width="31.0" height="26.5" rx="3" fill="#3d5a8f" stroke="#1b2438" stroke-width="1.2"/>
<rect x="580.8" y="416.2" width="19.2" height="7.9" fill="#f2d36a"/>
<text x="590.4" y="422.7" font-size="8.5" font-weight="bold" fill="#3a2e10" text-anchor="middle" textLength="16.5" lengthAdjust="spacingAndGlyphs">TOKEN</text>

</g>
</svg>
</body></html>
